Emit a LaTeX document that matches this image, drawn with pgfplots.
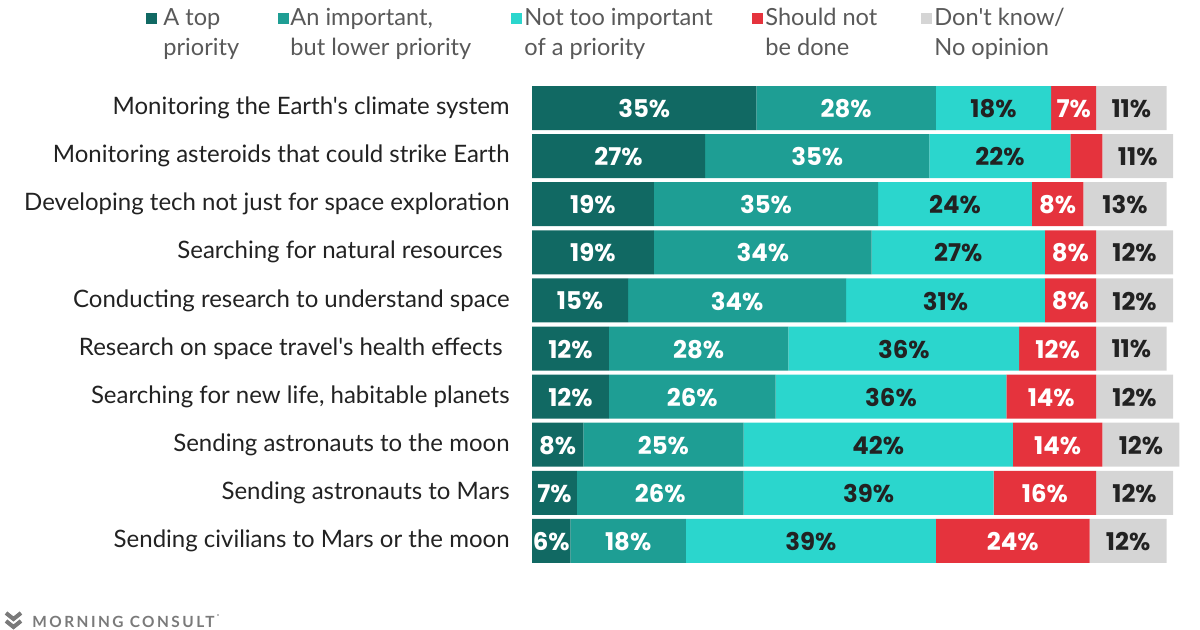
\documentclass[border=0pt]{standalone}
\usepackage{pgfplots}
\usepackage{pgfplotstable}
\pgfplotsset{compat=1.18}
\usepackage{fontspec}
\setmainfont{Lato}
% plain instances keep straight apostrophes
\newfontfamily\lato{Lato}
\newfontfamily\poppins{Poppins}

\definecolor{topc}{HTML}{116963}
\definecolor{lowc}{HTML}{1E9E94}
\definecolor{notc}{HTML}{2BD6CD}
\definecolor{noc}{HTML}{E5333D}
\definecolor{dkc}{HTML}{D5D5D5}
\definecolor{txt}{HTML}{222222}
\definecolor{legtxt}{HTML}{595959}
\definecolor{logo}{HTML}{7A7A7A}

% share of respondents per priority level, in percent
\pgfplotstableread{
row top low notoo no dk
0 35 28 18 7 11
1 27 35 22 5 11
2 19 35 24 8 13
3 19 34 27 8 12
4 15 34 31 8 12
5 12 28 36 12 11
6 12 26 36 14 12
7 8 25 42 14 12
8 7 26 39 16 12
9 6 18 39 24 12
}\priorities

\pgfplotsset{
  frame/.style={
    at={(266pt,-42pt)}, anchor=north west,
    scale only axis, width=320.5pt, height=240.5pt,
    xmin=0, xmax=100, ymin=-0.5, ymax=9.5, y dir=reverse,
    clip=false,
  },
  pct/.style={
    draw=none, mark=none, point meta=explicit,
    nodes near coords={\pgfmathprintnumber[assume math mode=true]{\pgfplotspointmeta}\%},
    every node near coord/.append style={anchor=center, inner sep=0pt, yshift=-0.3pt,
      font=\fontsize{12.2}{13}\selectfont\poppins\bfseries, text=#1},
  },
}

\newcommand\legfont{\fontsize{11.8}{13}\selectfont\lato}

\begin{document}
\begin{tikzpicture}
\path[use as bounding box] (0,0) rectangle (600pt,-315pt);

\begin{axis}[
  frame,
  xbar stacked, bar width=22pt,
  axis line style={draw=none}, xtick=\empty,
  ytick={0,...,9}, major tick length=0pt,
  yticklabels={
    Monitoring the Earth's climate system,
    Monitoring asteroids that could strike Earth,
    Developing tech not just for space exploration,
    Searching for natural resources\hspace*{3.5pt},
    Conducting research to understand space,
    Research on space travel's health effects\hspace*{3.5pt},
    {Searching for new life, habitable planets},
    Sending astronauts to the moon,
    Sending astronauts to Mars,
    Sending civilians to Mars or the moon},
  yticklabel style={anchor=east, inner sep=0pt, xshift=-11pt,
    font=\fontsize{12}{13}\selectfont\lato, text=txt},
]
\addplot[fill=topc, draw=none] table[x=top, y=row] {\priorities};
\addplot[fill=lowc, draw=none] table[x=low, y=row] {\priorities};
\addplot[fill=notc, draw=none] table[x=notoo, y=row] {\priorities};
\addplot[fill=noc, draw=none] table[x=no, y=row] {\priorities};
\addplot[fill=dkc, draw=none] table[x=dk, y=row] {\priorities};
\end{axis}

% value labels, centred in each segment
\begin{axis}[frame, hide axis]
\addplot[pct=white] table[x expr=\thisrow{top}/2, y=row, meta=top] {\priorities};
\addplot[pct=white] table[x expr=\thisrow{top}+\thisrow{low}/2, y=row, meta=low] {\priorities};
\addplot[pct=txt] table[x expr=\thisrow{top}+\thisrow{low}+\thisrow{notoo}/2, y=row, meta=notoo] {\priorities};
\addplot[pct=white, skip coords between index={1}{2}] table[x expr=\thisrow{top}+\thisrow{low}+\thisrow{notoo}+\thisrow{no}/2, y=row, meta=no] {\priorities};
\addplot[pct=txt] table[x expr=\thisrow{top}+\thisrow{low}+\thisrow{notoo}+\thisrow{no}+\thisrow{dk}/2, y=row, meta=dk] {\priorities};
\end{axis}

% legend and footer
\begin{scope}[x=0.5pt, y=-0.5pt]
  \fill[topc] (146,13) rectangle (157,24);
  \node[anchor=base west, inner sep=0, font=\legfont, text=legtxt] at (163,26) {A top};
  \node[anchor=base west, inner sep=0, font=\legfont, text=legtxt] at (163,56) {priority};
  \fill[lowc] (278,13) rectangle (289,24);
  \node[anchor=base west, inner sep=0, font=\legfont, text=legtxt] at (290,26) {An important,};
  \node[anchor=base west, inner sep=0, font=\legfont, text=legtxt] at (290,56) {but lower priority};
  \fill[notc] (511,13) rectangle (522,24);
  \node[anchor=base west, inner sep=0, font=\legfont, text=legtxt] at (524,26) {Not too important};
  \node[anchor=base west, inner sep=0, font=\legfont, text=legtxt] at (524,56) {of a priority};
  \fill[noc] (752,13) rectangle (763,24);
  \node[anchor=base west, inner sep=0, font=\legfont, text=legtxt] at (765,26) {Should not};
  \node[anchor=base west, inner sep=0, font=\legfont, text=legtxt] at (765,56) {be done};
  \fill[dkc] (921,13) rectangle (932,24);
  \node[anchor=base west, inner sep=0, font=\legfont, text=legtxt] at (934,26) {Don't know/};
  \node[anchor=base west, inner sep=0, font=\legfont, text=legtxt] at (934,56) {No opinion};

  \draw[logo, line width=2pt, line cap=butt, line join=miter] (6,613) -- (13.5,619) -- (21,613);
  \draw[logo, line width=2pt, line cap=butt, line join=miter] (6,621) -- (13.5,627) -- (21,621);
  \node[anchor=base west, inner sep=0, text=logo,
    font=\fontsize{7.7}{9}\selectfont\bfseries\addfontfeatures{LetterSpace=16}] at (32,627) {MORNING CONSULT};
  \fill[logo] (218,615) circle (0.8);
\end{scope}
\end{tikzpicture}
\end{document}
